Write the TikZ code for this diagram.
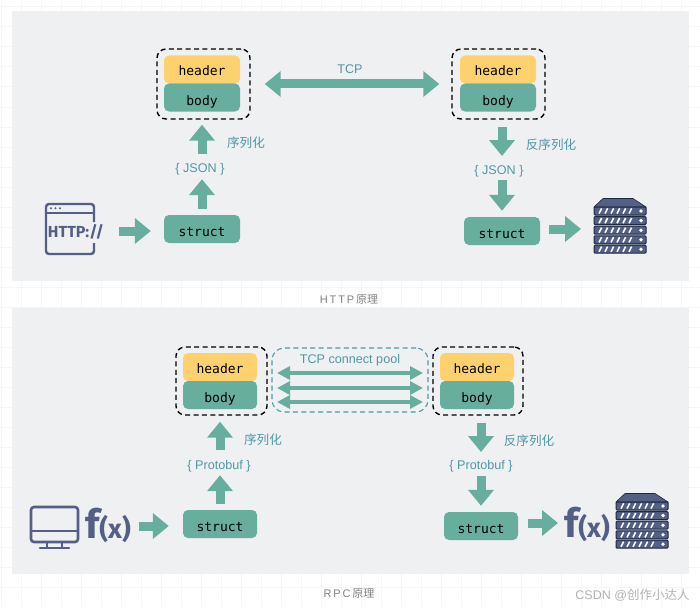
\documentclass[tikz,border=0pt]{standalone}
\usepackage{fontspec}
\setmainfont{Liberation Sans}
\newfontfamily\monof{DejaVu Sans Mono}
\newfontfamily\cjk{Noto Sans CJK SC}
\newfontfamily\fxfont{Fira Sans}[BoldFont={Fira Sans Bold}]
\usetikzlibrary{arrows.meta}

\definecolor{panelgray}{HTML}{EFF0F2}
\definecolor{gridgray}{HTML}{F6F6F7}
\definecolor{boxgreen}{HTML}{68AE9E}
\definecolor{boxyellow}{HTML}{FDD26E}
\definecolor{labelteal}{HTML}{4F98A4}
\definecolor{iconblue}{HTML}{545F85}
\definecolor{serverdark}{HTML}{1E2A40}

\tikzset{
  % ----- boxes
  headbox/.style = {
    rectangle, rounded corners=5pt, inner sep=0pt, fill=boxyellow,
    minimum height=28pt, font=\monof\fontsize{13}{13}\selectfont,
    text height=12pt, text depth=0pt
  },
  bodybox/.style = {headbox, fill=boxgreen, text height=15pt},
  structbox/.style = {bodybox},
  dashbox/.style = {
    rectangle, rounded corners=9pt, inner sep=0pt,
    draw=black, line width=1.4pt, dash pattern=on 5pt off 3.4pt
  },
  poolbox/.style = {dashbox, rounded corners=12pt, draw=labelteal, line width=1.1pt},
  % ----- texts
  lab/.style = {
    inner sep=0pt, text=labelteal, text height=11pt, text depth=1pt,
    font=\fontsize{12.6}{12.6}\selectfont
  },
  caption/.style = {lab, text=black!50, font=\fontsize{11}{11}\selectfont},
  % ----- connectors
  fat/.style = {
    draw=boxgreen, line width=9pt,
    -{Triangle[length=16pt,width=25pt]}
  },
  fatboth/.style = {
    draw=boxgreen, line width=9pt,
    {Triangle[length=16pt,width=25pt]}-{Triangle[length=16pt,width=25pt]}
  },
  thinboth/.style = {
    draw=boxgreen, line width=4pt,
    {Triangle[length=13pt,width=13pt]}-{Triangle[length=13pt,width=13pt]}
  },
  % ----- icons
  fxnode/.style = {inner sep=0pt, text=iconblue, font=\fxfont\bfseries},
  servericon/.pic = {
    \fill[iconblue, draw=serverdark, line width=0.6pt]
      (0,9) -- (9,0.5) -- (39,0.5) -- (52,9) -- cycle;
    \foreach \u in {9,18.6,28.2,37.8,47.2}{
      \fill[iconblue, draw=serverdark, line width=1pt, rounded corners=1pt]
        (0,\u) rectangle (52,\u+8);
      \foreach \s in {5,11,17,23,29,35}{
        \draw[white, line width=1.6pt] (\s,\u+6.6) -- (\s+2.6,\u+1.4);
      }
      \fill[white] (47,\u+4) circle (1.9pt);
    }
  }
}

\begin{document}
\begin{tikzpicture}[x=1pt, y=-1pt]
  \useasboundingbox (0,0) rectangle (700,607);

  % grid behind the panels
  \foreach \x in {1,21,...,681}{
    \draw[gridgray, line width=1pt] (\x,0) -- (\x,607);
  }
  \foreach \y in {7,27,...,587}{
    \draw[gridgray, line width=1pt] (0,\y) -- (700,\y);
  }

  % panels
  \fill[panelgray] (12,11) rectangle (688.5,281);
  \fill[panelgray] (12,308) rectangle (688.5,574);

  % message boxes
  \foreach \id/\x/\yh/\yb/\w/\dx/\dy/\dw/\dh in {
      1/202/69.5/97.5/76/203.5/84/93/70,
      2/498/69.5/97.5/76/498.5/84/93/70,
      3/220/367/395/74/221.5/381/91/68,
      4/477/367/395/74/478/381/90/68}{
    \node[headbox, minimum width=\w pt] (H\id) at (\x,\yh) {header};
    \node[bodybox, minimum width=\w pt] (B\id) at (\x,\yb) {body};
    \node[dashbox, minimum width=\dw pt, minimum height=\dh pt] (D\id) at (\dx,\dy) {};
  }

  % struct boxes
  \node[structbox, minimum width=76pt] (S1) at (202,229) {struct};
  \node[structbox, minimum width=76pt] (S2) at (502,231) {struct};
  \node[structbox, minimum width=74pt] (S3) at (220,524) {struct};
  \node[structbox, minimum width=74pt] (S4) at (481,526) {struct};

  % texts
  \node[lab] (tcp) at (350,69) {TCP};
  \node[lab] (json1) at (200,167.5) {\{ JSON \}};
  \node[lab] (json2) at (499,169.5) {\{ JSON \}};
  \node[lab] (ser1) at (246,142) {\cjk 序列化};
  \node[lab] (de1) at (551,144) {\cjk 反序列化};
  \node[lab] (proto1) at (219,464) {\{ Protobuf \}};
  \node[lab] (proto2) at (481,464) {\{ Protobuf \}};
  \node[lab] (ser2) at (263,439) {\cjk 序列化};
  \node[lab] (de2) at (529,440) {\cjk 反序列化};
  \node[caption] (cap1) at (349,298) {H\,T\,T\,P\,{\cjk 原理}};
  \node[caption] (cap2) at (349,592) {R\,P\,C\,{\cjk 原理}};
  \node[caption, text=black!30, font=\fontsize{12.5}{12.5}\selectfont] (mark) at (632.5,594) {CSDN @{\cjk 创作小达人}};

  % connection pool
  \node[poolbox, minimum width=156pt, minimum height=64pt] (pool) at (350,380) {};
  \node[lab] (pooltext) at (350,358) {TCP connect pool};
  \foreach \n/\y in {1/373,2/388,3/402}{
    \coordinate (pl\n) at (277,\y);
    \coordinate (pr\n) at (423,\y);
    \draw[thinboth] (pl\n) -- (pr\n);
  }
  \draw[fatboth, shorten <=14pt, shorten >=12pt] (D1.east) -- (D2.west);

  % http side
  \coordinate (httpout) at (119,231);
  \draw[fat, shorten >=13pt] (httpout) -- (S1.west |- httpout);
  \draw[fat, shorten <=6pt, shorten >=5.5pt] (S1.north) -- (S1.north |- json1.south);
  \draw[fat, shorten <=7.5pt, shorten >=5pt] (S1.north |- json1.north) -- (S1.north |- D1.south);
  \coordinate (down1) at (502,156);
  \draw[fat, shorten <=7pt] (down1 |- D2.south) -- (down1);
  \draw[fat, shorten <=4.5pt, shorten >=6pt] (S2.north |- json2.south) -- (S2.north);
  \coordinate (srvin1) at (581,229);
  \draw[fat, shorten <=9pt] (S2.east |- srvin1) -- (srvin1);

  % rpc side
  \coordinate (fxout) at (139,526);
  \draw[fat, shorten >=14pt] (fxout) -- (S3.west |- fxout);
  \draw[fat, shorten <=6pt, shorten >=5pt] (S3.north) -- (S3.north |- proto1.south);
  \draw[fat, shorten <=8pt, shorten >=6pt] (S3.north |- proto1.north) -- (S3.north |- D3.south);
  \coordinate (down2) at (481,452);
  \draw[fat, shorten <=7pt] (down2 |- D4.south) -- (down2);
  \draw[fat, shorten <=6pt, shorten >=6pt] (S4.north |- proto2.south) -- (S4.north);
  \coordinate (fxin) at (558,523);
  \draw[fat, shorten <=10pt] (S4.east |- fxin) -- (fxin);

  % browser window
  \draw[iconblue, line width=2.4pt, rounded corners=3pt]
    (94,222) -- (94,204) -- (46,204) -- (46,254) -- (94,254) -- (94,243);
  \draw[iconblue, line width=2pt] (46,213) -- (94,213);
  \foreach \x in {51,55.5,60}{
    \fill[iconblue] (\x,208.3) circle (1.1pt);
  }
  \node[fxnode, font=\fxfont\bfseries\fontsize{16}{16}\selectfont] (http) at (76,232) {HTTP://};

  % monitor
  \draw[iconblue, line width=2.6pt, rounded corners=3pt] (31,507) rectangle (78,542);
  \draw[iconblue, line width=2.2pt] (31,531) -- (78,531);
  \draw[iconblue, line width=2.2pt] (47,542) -- (47,548);
  \draw[iconblue, line width=2.2pt] (62,542) -- (62,548);
  \draw[iconblue, line width=2.6pt, line cap=round] (40,548) -- (69,548);
  \node[fxnode] (fx1) at (108,525) {{\fontsize{40}{40}\selectfont f}{\fontsize{27}{27}\selectfont (x)}};
  \node[fxnode] (fx2) at (587,524) {{\fontsize{40}{40}\selectfont f}{\fontsize{27}{27}\selectfont (x)}};

  % servers
  \pic at (594,198) {servericon};
  \pic at (616,493) {servericon};
\end{tikzpicture}
\end{document}
